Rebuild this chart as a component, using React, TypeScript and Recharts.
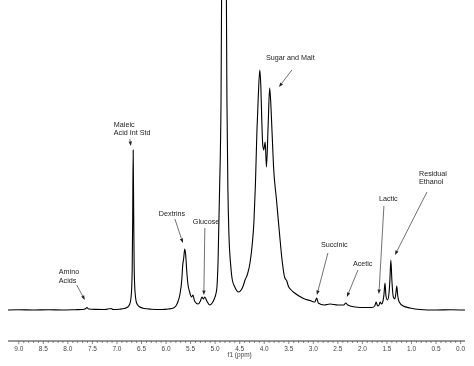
import { LineChart, Line, XAxis, YAxis, ReferenceLine, ReferenceDot } from "recharts";

// chemical shift (ppm) and intensity
const shifts = [
  9.22, 9.0, 8.7, 8.4, 8.1, 7.85, 7.7, 7.64, 7.61, 7.58, 7.45, 7.25, 7.12, 7.08, 6.95,
  6.85, 6.78, 6.74, 6.72, 6.7, 6.69, 6.68, 6.67, 6.66, 6.65, 6.64, 6.62, 6.6, 6.55, 6.45,
  6.3, 6.1, 5.95, 5.85, 5.8, 5.76, 5.72, 5.68, 5.66, 5.64, 5.62, 5.6, 5.58, 5.56, 5.52,
  5.48, 5.45, 5.42, 5.35, 5.3, 5.27, 5.24, 5.21, 5.17, 5.11, 5.06, 5.01, 4.99, 4.965, 4.94,
  4.91, 4.88, 4.86, 4.82, 4.78, 4.76, 4.74, 4.72, 4.68, 4.65, 4.6, 4.52, 4.47, 4.43, 4.39,
  4.34, 4.29, 4.24, 4.21, 4.18, 4.15, 4.12, 4.09, 4.07, 4.05, 4.03, 4.01, 3.98, 3.955, 3.92,
  3.89, 3.87, 3.84, 3.81, 3.75, 3.69, 3.63, 3.58, 3.54, 3.51, 3.47, 3.38, 3.22, 3.04, 2.97,
  2.93, 2.9, 2.78, 2.66, 2.5, 2.38, 2.34, 2.3, 2.15, 1.95, 1.8, 1.75, 1.72, 1.69, 1.66,
  1.64, 1.61, 1.58, 1.56, 1.54, 1.52, 1.49, 1.46, 1.44, 1.42, 1.4, 1.37, 1.34, 1.32, 1.3,
  1.28, 1.25, 1.17, 1.03, 0.83, 0.5, 0.2, -0.09,
];
const intensities = [
  0, 0.3, 0, 0.3, 0, 0.3, 0.5, 1.2, 2.5, 1, 0.6, 0.5, 1.5, 0.5, 0.8,
  1.5, 3, 6, 10, 22, 40, 90, 160, 100, 45, 25, 12, 7, 3.5, 1.5,
  0.8, 0.5, 1, 2, 4, 8, 15, 30, 45, 52, 61, 55, 40, 28, 18,
  13, 15, 9, 6, 9, 13, 11, 13, 9, 5, 7, 12, 15, 22, 50,
  120, 210, 400, 700, 400, 210, 120, 77, 43, 30, 23, 18, 20, 24, 30,
  36, 47, 68, 88, 125, 177, 215, 240, 225, 190, 165, 160, 168, 143, 185,
  222, 210, 177, 143, 110, 77, 47, 32, 29, 24, 21, 17, 12, 9, 8,
  12, 7, 5, 6, 5, 5, 7, 5, 3, 2.5, 2.5, 4, 8, 4, 5,
  8, 6, 9, 16, 27, 14, 10, 16, 30, 50, 30, 13, 11, 16, 24,
  14, 8, 4, 2, 0.5, 0, 0.3, 0,
];

const MAJOR_TICKS = [9.0, 8.5, 8.0, 7.5, 7.0, 6.5, 6.0, 5.5, 5.0, 4.5, 4.0, 3.5, 3.0, 2.5, 2.0, 1.5, 1.0, 0.5, 0.0];
const MINOR_STEP = 0.1;

// peak labels: text anchor and arrow from -> to, all in (ppm, intensity)
const labelLines = [
  ["Amino", "Acids"],
  ["Maleic", "Acid Int Std"],
  ["Dextrins"],
  ["Glucose"],
  ["Sugar and Malt"],
  ["Succinic"],
  ["Acetic"],
  ["Lactic"],
  ["Residual", "Ethanol"],
];
const labelAt = [
  [8.185, 36], [7.064, 183.5], [6.147, 94.5], [5.454, 86.5], [3.966, 250.5],
  [2.846, 63.5], [2.194, 44.5], [1.664, 109.5], [0.848, 134.5],
];
const arrowFrom = [
  [7.82, 25], [6.738, 171], [5.82, 91], [5.21, 82], [3.437, 240],
  [2.703, 57], [2.09, 40], [1.562, 104], [0.685, 118],
];
const arrowTo = [
  [7.655, 10], [6.717, 164], [5.658, 67], [5.23, 15], [3.7, 223],
  [2.927, 15], [2.316, 13], [1.664, 16], [1.337, 55],
];

const data = shifts.map((ppm, i) => ({ ppm, value: intensities[i] }));

const allTicks: number[] = [];
for (let t = 0; t <= 90; t++) allTicks.push(Math.round(t * MINOR_STEP * 10) / 10);

const FONT = "'Liberation Sans', Arial, sans-serif";

function PpmTick(props: any) {
  const { x, y, payload } = props;
  const v = payload.value as number;
  const major = MAJOR_TICKS.some((m) => Math.abs(m - v) < 1e-6);
  return (
    <g>
      <line x1={x} x2={x} y1={y} y2={y + (major ? 3 : 2)} stroke="#555" strokeWidth={0.7} />
      {major && (
        <text x={x} y={y + 9.5} textAnchor="middle" fontSize={6.5} fill="#444" fontFamily={FONT}>
          {v.toFixed(1)}
        </text>
      )}
      {Math.abs(v - 4.5) < 1e-6 && (
        <text x={x} y={y + 15.5} textAnchor="middle" fontSize={6.5} fill="#444" fontFamily={FONT}>
          f1 (ppm)
        </text>
      )}
    </g>
  );
}

function Arrow(props: any) {
  const { x1, y1, x2, y2 } = props;
  const ang = Math.atan2(y2 - y1, x2 - x1);
  const len = 4.5;
  const w = 1.7;
  const bx = x2 - len * Math.cos(ang);
  const by = y2 - len * Math.sin(ang);
  const px = -Math.sin(ang) * w;
  const py = Math.cos(ang) * w;
  return (
    <g>
      <line x1={x1} y1={y1} x2={bx} y2={by} stroke="#333" strokeWidth={0.7} />
      <polygon points={`${x2},${y2} ${bx + px},${by + py} ${bx - px},${by - py}`} fill="#222" />
    </g>
  );
}

function makeLabel(lines: string[]) {
  return (p: any) => (
    <text x={p.cx} y={p.cy} fontSize={7.2} fill="#222" fontFamily={FONT}>
      {lines.map((l, i) => (
        <tspan key={l} x={p.cx} dy={i === 0 ? 0 : 8.5}>
          {l}
        </tspan>
      ))}
    </text>
  );
}

export default function App() {
  return (
    <div style={{ position: "absolute", left: 0, top: 0, background: "#fff", willChange: "transform" }}>
      <LineChart width={474} height={366} data={data} margin={{ top: 0, right: 9, bottom: 0, left: 8 }}>
        <XAxis
          dataKey="ppm"
          type="number"
          domain={[-0.09, 9.22]}
          reversed
          allowDataOverflow
          ticks={allTicks}
          interval={0}
          tick={<PpmTick />}
          tickLine={false}
          tickSize={0}
          tickMargin={0}
          height={25}
          stroke="#333"
        />
        <YAxis hide domain={[-31, 310]} allowDataOverflow />
        <Line
          dataKey="value"
          type="monotone"
          stroke="#000"
          strokeWidth={1.1}
          dot={false}
          isAnimationActive={false}
        />
        {arrowFrom.map((f, i) => (
          <ReferenceLine
            key={`a${i}`}
            segment={[
              { x: f[0], y: f[1] },
              { x: arrowTo[i][0], y: arrowTo[i][1] },
            ]}
            shape={Arrow}
          />
        ))}
        {labelAt.map((p, i) => (
          <ReferenceDot key={`l${i}`} x={p[0]} y={p[1]} r={0} shape={makeLabel(labelLines[i])} />
        ))}
      </LineChart>
    </div>
  );
}
